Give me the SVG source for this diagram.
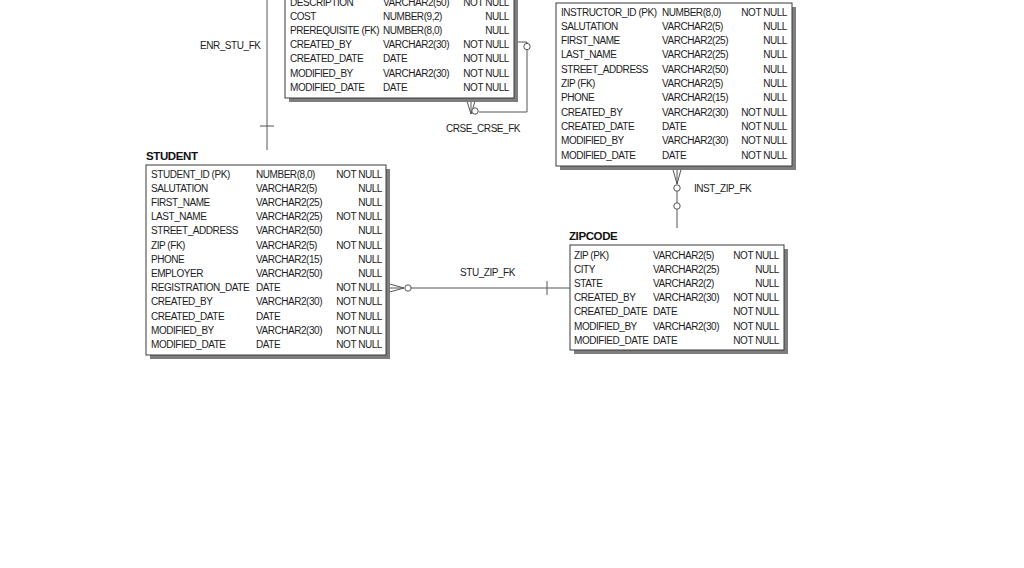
<svg xmlns="http://www.w3.org/2000/svg" width="1024" height="568" viewBox="0 0 1024 568">
<style>
.bg{fill:#ffffff}
.sh{fill:#7d7d7d}
.box{fill:#ffffff;stroke:#3a3a3a;stroke-width:1}
.t{font-family:"Liberation Sans",Arial,sans-serif;font-size:10px;letter-spacing:-0.45px;fill:#1c1c24}
.r{text-anchor:end}
.title{font-family:"Liberation Sans",Arial,sans-serif;font-size:11.5px;font-weight:bold;letter-spacing:-0.4px;fill:#111}
.lbl{font-family:"Liberation Sans",Arial,sans-serif;font-size:10px;letter-spacing:-0.45px;fill:#1c1c24}
.c{fill:none;stroke:#555;stroke-width:1}
.o{fill:#fff;stroke:#555;stroke-width:1}
</style>
<rect class="bg" x="0" y="0" width="1024" height="568"/>

<g id="connectors">
  <!-- ENR_STU_FK -->
  <line class="c" x1="267" y1="0" x2="267" y2="150"/>
  <line class="c" x1="260" y1="126" x2="274" y2="126"/>
  <text class="lbl" x="200" y="49">ENR_STU_FK</text>
  <!-- CRSE_CRSE_FK -->
  <polyline class="c" points="514,42 527,42 527,43"/>
  <line class="c" x1="527" y1="50" x2="527" y2="112"/>
  <line class="c" x1="527" y1="112" x2="479" y2="112"/>
  <circle class="o" cx="527" cy="46.5" r="3.2"/>
  <line class="c" x1="466" y1="98" x2="471" y2="114"/>
  <line class="c" x1="476" y1="98" x2="471" y2="114"/>
  <line class="c" x1="471" y1="98" x2="471" y2="114"/>
  <circle class="o" cx="475" cy="111" r="3.2"/>
  <text class="lbl" x="446" y="132">CRSE_CRSE_FK</text>
  <!-- STU_ZIP_FK -->
  <line class="c" x1="386" y1="283" x2="404" y2="288"/>
  <line class="c" x1="386" y1="293" x2="404" y2="288"/>
  <line class="c" x1="386" y1="288" x2="404" y2="288"/>
  <circle class="o" cx="408" cy="288" r="3.2"/>
  <line class="c" x1="411" y1="288" x2="570" y2="288"/>
  <line class="c" x1="547" y1="281" x2="547" y2="295"/>
  <text class="lbl" x="460" y="276">STU_ZIP_FK</text>
  <!-- INST_ZIP_FK -->
  <line class="c" x1="672" y1="166" x2="677" y2="184"/>
  <line class="c" x1="682" y1="166" x2="677" y2="184"/>
  <line class="c" x1="677" y1="166" x2="677" y2="184"/>
  <circle class="o" cx="677" cy="188" r="3.2"/>
  <line class="c" x1="677" y1="191" x2="677" y2="203"/>
  <circle class="o" cx="677" cy="206" r="3.2"/>
  <line class="c" x1="677" y1="209" x2="677" y2="228"/>
  <text class="lbl" x="694" y="192">INST_ZIP_FK</text>
</g>

<g id="course">
  <rect class="sh" x="289" y="-16" width="229" height="118"/>
  <rect class="box" x="285" y="-20" width="229" height="118"/>
  <text class="t" x="290" y="5.5">DESCRIPTION</text><text class="t" x="383" y="5.5">VARCHAR2(50)</text><text class="t r" x="509" y="5.5">NOT NULL</text>
  <text class="t" x="290" y="19.7">COST</text><text class="t" x="383" y="19.7">NUMBER(9,2)</text><text class="t r" x="509" y="19.7">NULL</text>
  <text class="t" x="290" y="33.9">PREREQUISITE (FK)</text><text class="t" x="383" y="33.9">NUMBER(8,0)</text><text class="t r" x="509" y="33.9">NULL</text>
  <text class="t" x="290" y="48.1">CREATED_BY</text><text class="t" x="383" y="48.1">VARCHAR2(30)</text><text class="t r" x="509" y="48.1">NOT NULL</text>
  <text class="t" x="290" y="62.3">CREATED_DATE</text><text class="t" x="383" y="62.3">DATE</text><text class="t r" x="509" y="62.3">NOT NULL</text>
  <text class="t" x="290" y="76.5">MODIFIED_BY</text><text class="t" x="383" y="76.5">VARCHAR2(30)</text><text class="t r" x="509" y="76.5">NOT NULL</text>
  <text class="t" x="290" y="90.7">MODIFIED_DATE</text><text class="t" x="383" y="90.7">DATE</text><text class="t r" x="509" y="90.7">NOT NULL</text>
</g>

<g id="instructor">
  <rect class="sh" x="560" y="7" width="236" height="163"/>
  <rect class="box" x="556" y="3" width="236" height="163"/>
  <text class="t" x="561" y="15.5">INSTRUCTOR_ID (PK)</text><text class="t" x="662" y="15.5">NUMBER(8,0)</text><text class="t r" x="787" y="15.5">NOT NULL</text>
  <text class="t" x="561" y="29.8">SALUTATION</text><text class="t" x="662" y="29.8">VARCHAR2(5)</text><text class="t r" x="787" y="29.8">NULL</text>
  <text class="t" x="561" y="44.1">FIRST_NAME</text><text class="t" x="662" y="44.1">VARCHAR2(25)</text><text class="t r" x="787" y="44.1">NULL</text>
  <text class="t" x="561" y="58.4">LAST_NAME</text><text class="t" x="662" y="58.4">VARCHAR2(25)</text><text class="t r" x="787" y="58.4">NULL</text>
  <text class="t" x="561" y="72.7">STREET_ADDRESS</text><text class="t" x="662" y="72.7">VARCHAR2(50)</text><text class="t r" x="787" y="72.7">NULL</text>
  <text class="t" x="561" y="87">ZIP (FK)</text><text class="t" x="662" y="87">VARCHAR2(5)</text><text class="t r" x="787" y="87">NULL</text>
  <text class="t" x="561" y="101.3">PHONE</text><text class="t" x="662" y="101.3">VARCHAR2(15)</text><text class="t r" x="787" y="101.3">NULL</text>
  <text class="t" x="561" y="115.6">CREATED_BY</text><text class="t" x="662" y="115.6">VARCHAR2(30)</text><text class="t r" x="787" y="115.6">NOT NULL</text>
  <text class="t" x="561" y="129.9">CREATED_DATE</text><text class="t" x="662" y="129.9">DATE</text><text class="t r" x="787" y="129.9">NOT NULL</text>
  <text class="t" x="561" y="144.2">MODIFIED_BY</text><text class="t" x="662" y="144.2">VARCHAR2(30)</text><text class="t r" x="787" y="144.2">NOT NULL</text>
  <text class="t" x="561" y="158.5">MODIFIED_DATE</text><text class="t" x="662" y="158.5">DATE</text><text class="t r" x="787" y="158.5">NOT NULL</text>
</g>

<g id="student">
  <text class="title" x="146" y="160">STUDENT</text>
  <rect class="sh" x="150" y="169" width="240" height="190"/>
  <rect class="box" x="146" y="165" width="240" height="190"/>
  <text class="t" x="151" y="177.5">STUDENT_ID (PK)</text><text class="t" x="256" y="177.5">NUMBER(8,0)</text><text class="t r" x="382" y="177.5">NOT NULL</text>
  <text class="t" x="151" y="191.7">SALUTATION</text><text class="t" x="256" y="191.7">VARCHAR2(5)</text><text class="t r" x="382" y="191.7">NULL</text>
  <text class="t" x="151" y="205.9">FIRST_NAME</text><text class="t" x="256" y="205.9">VARCHAR2(25)</text><text class="t r" x="382" y="205.9">NULL</text>
  <text class="t" x="151" y="220.1">LAST_NAME</text><text class="t" x="256" y="220.1">VARCHAR2(25)</text><text class="t r" x="382" y="220.1">NOT NULL</text>
  <text class="t" x="151" y="234.3">STREET_ADDRESS</text><text class="t" x="256" y="234.3">VARCHAR2(50)</text><text class="t r" x="382" y="234.3">NULL</text>
  <text class="t" x="151" y="248.5">ZIP (FK)</text><text class="t" x="256" y="248.5">VARCHAR2(5)</text><text class="t r" x="382" y="248.5">NOT NULL</text>
  <text class="t" x="151" y="262.7">PHONE</text><text class="t" x="256" y="262.7">VARCHAR2(15)</text><text class="t r" x="382" y="262.7">NULL</text>
  <text class="t" x="151" y="276.9">EMPLOYER</text><text class="t" x="256" y="276.9">VARCHAR2(50)</text><text class="t r" x="382" y="276.9">NULL</text>
  <text class="t" x="151" y="291.1">REGISTRATION_DATE</text><text class="t" x="256" y="291.1">DATE</text><text class="t r" x="382" y="291.1">NOT NULL</text>
  <text class="t" x="151" y="305.3">CREATED_BY</text><text class="t" x="256" y="305.3">VARCHAR2(30)</text><text class="t r" x="382" y="305.3">NOT NULL</text>
  <text class="t" x="151" y="319.5">CREATED_DATE</text><text class="t" x="256" y="319.5">DATE</text><text class="t r" x="382" y="319.5">NOT NULL</text>
  <text class="t" x="151" y="333.7">MODIFIED_BY</text><text class="t" x="256" y="333.7">VARCHAR2(30)</text><text class="t r" x="382" y="333.7">NOT NULL</text>
  <text class="t" x="151" y="347.9">MODIFIED_DATE</text><text class="t" x="256" y="347.9">DATE</text><text class="t r" x="382" y="347.9">NOT NULL</text>
</g>

<g id="zipcode">
  <text class="title" x="569" y="240">ZIPCODE</text>
  <rect class="sh" x="574" y="249" width="214" height="105"/>
  <rect class="box" x="570" y="245" width="214" height="105"/>
  <text class="t" x="574" y="258.5">ZIP (PK)</text><text class="t" x="653" y="258.5">VARCHAR2(5)</text><text class="t r" x="779" y="258.5">NOT NULL</text>
  <text class="t" x="574" y="272.7">CITY</text><text class="t" x="653" y="272.7">VARCHAR2(25)</text><text class="t r" x="779" y="272.7">NULL</text>
  <text class="t" x="574" y="286.9">STATE</text><text class="t" x="653" y="286.9">VARCHAR2(2)</text><text class="t r" x="779" y="286.9">NULL</text>
  <text class="t" x="574" y="301.1">CREATED_BY</text><text class="t" x="653" y="301.1">VARCHAR2(30)</text><text class="t r" x="779" y="301.1">NOT NULL</text>
  <text class="t" x="574" y="315.3">CREATED_DATE</text><text class="t" x="653" y="315.3">DATE</text><text class="t r" x="779" y="315.3">NOT NULL</text>
  <text class="t" x="574" y="329.5">MODIFIED_BY</text><text class="t" x="653" y="329.5">VARCHAR2(30)</text><text class="t r" x="779" y="329.5">NOT NULL</text>
  <text class="t" x="574" y="343.7">MODIFIED_DATE</text><text class="t" x="653" y="343.7">DATE</text><text class="t r" x="779" y="343.7">NOT NULL</text>
</g>
</svg>
